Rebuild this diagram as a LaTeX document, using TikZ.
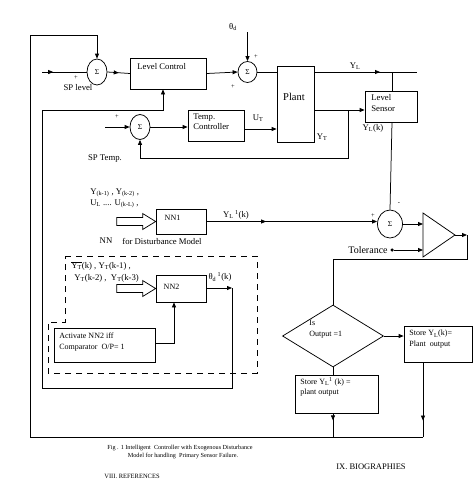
\documentclass[tikz,border=0pt]{standalone}
\usepackage{fontspec}
\setmainfont{Liberation Serif}
\usetikzlibrary{shapes.geometric,arrows.meta,decorations.markings}
\begin{document}
\begin{tikzpicture}[x=1pt,y=-1pt, line width=0.75pt,
  box/.style={draw, rectangle, inner sep=0pt},
  sumnode/.style={draw, ellipse, inner sep=0pt, font=\fontsize{7.5}{8}\selectfont},
  lbl/.style={inner sep=0pt, font=\fontsize{8.7}{10}\selectfont},
  sml/.style={inner sep=0pt, font=\fontsize{6.5}{7}\selectfont},
  tip/.style={-{Triangle[length=5pt,width=4pt]}},
  midarr/.style={postaction={decorate}, decoration={markings, mark=at position #1 with {\arrow{Triangle[length=5pt,width=4pt]}}}},
  hollow/.style={line width=0.75pt},
  dsh/.style={dash pattern=on 6pt off 5pt}
]
\useasboundingbox (0,0) rectangle (474,479);

% ---------- boxes ----------
\node[box, minimum width=76pt, minimum height=31pt] (lc) at (168.5,73.5) {};
\node[lbl, anchor=west] (lct) at (137,67) {Level Control};
\node[box, minimum width=37pt, minimum height=76pt] (plant) at (295.5,104) {};
\node[lbl, font=\fontsize{10.5}{12}\selectfont] (plt) at (294,97) {Plant};
\node[box, minimum width=52pt, minimum height=31pt] (sensor) at (391,106.5) {};
\node[lbl, anchor=north west, align=left, font=\fontsize{8.7}{11}\selectfont] (sent) at (371,94.5) {Level\\Sensor};
\node[box, minimum width=56pt, minimum height=31pt] (tc) at (216,125.5) {};
\node[lbl, anchor=north west, align=left, font=\fontsize{8.7}{10}\selectfont] (tct) at (193,113.5) {Temp.\\Controller};
\node[box, minimum width=50pt, minimum height=25pt] (nn1) at (181,221.5) {};
\node[lbl, font=\fontsize{8}{9}\selectfont] (nn1t) at (172.5,218) {NN1};
\node[box, minimum width=50pt, minimum height=27pt] (nn2) at (181,288.5) {};
\node[lbl, font=\fontsize{8}{9}\selectfont] (nn2t) at (171.5,287) {NN2};
\node[box, minimum width=101pt, minimum height=34pt] (act) at (104.5,345.5) {};
\node[lbl, anchor=north west, align=left, font=\fontsize{8}{11}\selectfont] (actt) at (59,332) {Activate NN2 iff\\Comparator\ \ O/P= 1};
\node[box, minimum width=68.5pt, minimum height=36pt] (sy) at (438.25,344) {};
\node[lbl, anchor=north west, align=left, font=\fontsize{8}{11}\selectfont] (syt) at (409,330) {Store Y\textsubscript{L}(k)=\\Plant\ \ output};
\node[box, minimum width=83pt, minimum height=38pt] (sy1) at (336.5,394) {};
\node[lbl, anchor=north west, align=left, font=\fontsize{8}{10}\selectfont] (sy1t) at (300,377) {Store Y\textsubscript{L}\textsuperscript{1} (k) =\\plant output};

% ---------- summing junctions ----------
\node[sumnode, minimum width=20pt, minimum height=26pt] (s1) at (97,72) {Σ};
\node[sumnode, minimum width=19pt, minimum height=21pt] (s2) at (247.5,72) {Σ};
\node[sumnode, minimum width=20pt, minimum height=25pt] (sT) at (140,127) {Σ};
\node[sumnode, minimum width=25pt, minimum height=28pt] (s3) at (390,224) {Σ};

% ---------- decision ----------
\node[draw, diamond, minimum width=101pt, minimum height=62pt, inner sep=0pt] (dia) at (333,336) {};
\node[lbl, anchor=north west, align=left, font=\fontsize{8}{11}\selectfont] (diat) at (309,320) {Is\\Output =1};

% ---------- comparator (triangle) ----------
\coordinate (ampT) at (423,213);
\coordinate (ampB) at (423,257);
\coordinate (ampO) at (455,235);
\draw (ampT) -- (ampO) -- (ampB) -- cycle;
\node[circle, fill, inner sep=0pt, minimum size=3.5pt] (tol) at (392,250) {};
\node[lbl, anchor=east, font=\fontsize{10}{12}\selectfont] (tolt) at (388,250) {Tolerance};

% ---------- labels ----------
\node[lbl] (spl) at (78,88) {SP level};
\node[sml] (pl1) at (76,78) {+};
\node[lbl] (spt) at (105,159) {SP Temp.};
\node[sml] (pl2) at (117,117) {+};
\node[lbl] (thd) at (233,27) {θ\textsubscript{d}};
\node[sml] (pl3) at (256,57) {+};
\node[sml] (pl4) at (233,87) {+};
\node[lbl] (ut) at (258,118) {U\textsubscript{T}};
\node[lbl] (yt) at (322,137) {Y\textsubscript{T}};
\node[lbl] (yl) at (355,66) {Y\textsubscript{L}};
\node[lbl] (ylk) at (373,128) {Y\textsubscript{L}(k)};
\node[lbl, anchor=west] (in1a) at (90,193) {Y\textsubscript{(k-1)} , Y\textsubscript{(k-2)} ,};
\node[lbl, anchor=west] (in1b) at (90,203.5) {U\textsubscript{L} .... U\textsubscript{(k-L)} ,};
\node[lbl] (nnt) at (106,241) {NN};
\node[lbl, anchor=west] (dmt) at (122,241) {for Disturbance Model};
\node[lbl] (yl1) at (236,215) {Y\textsubscript{L}\,\textsuperscript{1}(k)};
\node[sml] (pl5) at (373,216) {+};
\node[sml] (mi1) at (399,204) {-};
\node[lbl, anchor=west] (in2a) at (71,266) {$\overline{\mbox{Y\textsubscript{T}}}$(k) , Y\textsubscript{T}(k-1) ,};
\node[lbl, anchor=west] (in2b) at (74,278) {Y\textsubscript{T}(k-2) ,\ \ Y\textsubscript{T}(k-3)};
\node[lbl] (thd1) at (220,277) {θ\textsubscript{d}\,\textsuperscript{1}(k)};

% ---------- caption and headings ----------
\node[inner sep=0pt, font=\fontsize{6.2}{7}\selectfont] (cap1) at (180,448) {Fig . 1 Intelligent\ \ Controller with Exogenous Disturbance};
\node[inner sep=0pt, font=\fontsize{6.2}{7}\selectfont] (cap2) at (183,456) {Model for handling\ \ Primary Sensor Failure.};
\node[inner sep=0pt, font=\fontsize{8.5}{10}\selectfont] (bio) at (371,467) {IX. BIOGRAPHIES};
\node[inner sep=0pt, font=\fontsize{6.5}{8}\selectfont] (ref) at (132,476.5) {VIII. REFERENCES};

% ---------- dashed region ----------
\draw[dsh] (65,256) -- (257,256) -- (257,373) -- (48,373) -- (48,322) -- (65,322) -- cycle;

% ---------- hollow input arrows ----------
\draw[hollow, shift={(nn1.west)}] (-39,-4) -- (-13,-4) -- (-13,-8) -- (0,0) -- (-13,8) -- (-13,4) -- (-39,4) -- cycle;
\draw[hollow, shift={(nn2.west)}] (-39,-4) -- (-13,-4) -- (-13,-8) -- (0,0) -- (-13,8) -- (-13,4) -- (-39,4) -- cycle;

% ---------- coordinates ----------
\coordinate (splin) at (42,72);
\coordinate (t0) at (30,35);
\coordinate (t1) at (97,35);
\coordinate (b3) at (30,437);
\coordinate (b1) at (333,437);
\coordinate (b2) at (423,437);
\coordinate (thc) at (247.5,32);
\coordinate (ylend) at (417,72);
\coordinate (j1) at (392,72);
\coordinate (p110) at (314,110);
\coordinate (j2) at (348,110);
\coordinate (tf) at (348,158);
\coordinate (sptin) at (105,127);
\coordinate (ut1) at (244,129);
\coordinate (l1) at (42,110);
\coordinate (l2) at (163,110);
\coordinate (c1) at (232,288);
\coordinate (c2) at (232,388);
\coordinate (c3) at (42,388);
\coordinate (o1) at (467,235);
\coordinate (o2) at (467,259);
\coordinate (o3) at (333,259);
\coordinate (a1) at (155,343);
\coordinate (a2) at (174,343);

% ---------- connectors ----------
% outer feedback loop
\draw[midarr=0.3] (sy1.south -| b1) -- (b1);
\draw[midarr=0.78] (sy.south -| b2) -- (b2);
\draw[tip] (b2) -- (b3) -- (t0) -- (t1) -- (s1.north);
% level loop
\draw[midarr=0.25] (splin) -- (s1.west);
\draw[midarr=0.5] (s1.east) -- (lc.west);
\draw[tip] (lc.east) -- (s2.west);
\draw[tip] (thc) -- (s2.north);
\draw (s2.east) -- (s2.east -| plant.west);
\draw[midarr=0.64] (s2.east -| plant.east) -- (ylend);
\draw (j1) -- (j1 |- sensor.north);
\draw[tip] (p110) -- (p110 -| sensor.west);
% temperature loop
\draw[tip] (j2) -- (tf) -- (tf -| sT.south) -- (sT.south);
\draw[tip] (sptin) -- (sT.west);
\draw[tip] (sT.east) -- (sT.east -| tc.west);
\draw[tip] (ut1) -- (ut1 -| plant.west);
% NN2 path to level control
\draw[tip] (nn2.east |- c1) -- (c1);
\draw[tip] (c1) -- (c2) -- (c3) -- (l1) -- (l2) -- (l2 |- lc.south);
\draw[tip] (a1) -- (a2) -- (a2 |- nn2.south);
% disturbance model / comparator
\draw (j1 |- sensor.south) -- (s3.north);
\draw[tip, midarr=0.35] (nn1.east) -- (nn1.east -| s3.west);
\draw[tip] (s3.east) -- (s3.east -| ampT);
\draw[tip] (tol) -- (tol -| ampT);
\draw[tip] (ampO) -- (o1);
\draw (o1) -- (o2) -- (o3) -- (dia.north);
\draw[tip] (dia.east) -- (dia.east -| sy.west);
\draw (dia.south) -- (dia.south |- sy1.north);
\end{tikzpicture}
\end{document}
